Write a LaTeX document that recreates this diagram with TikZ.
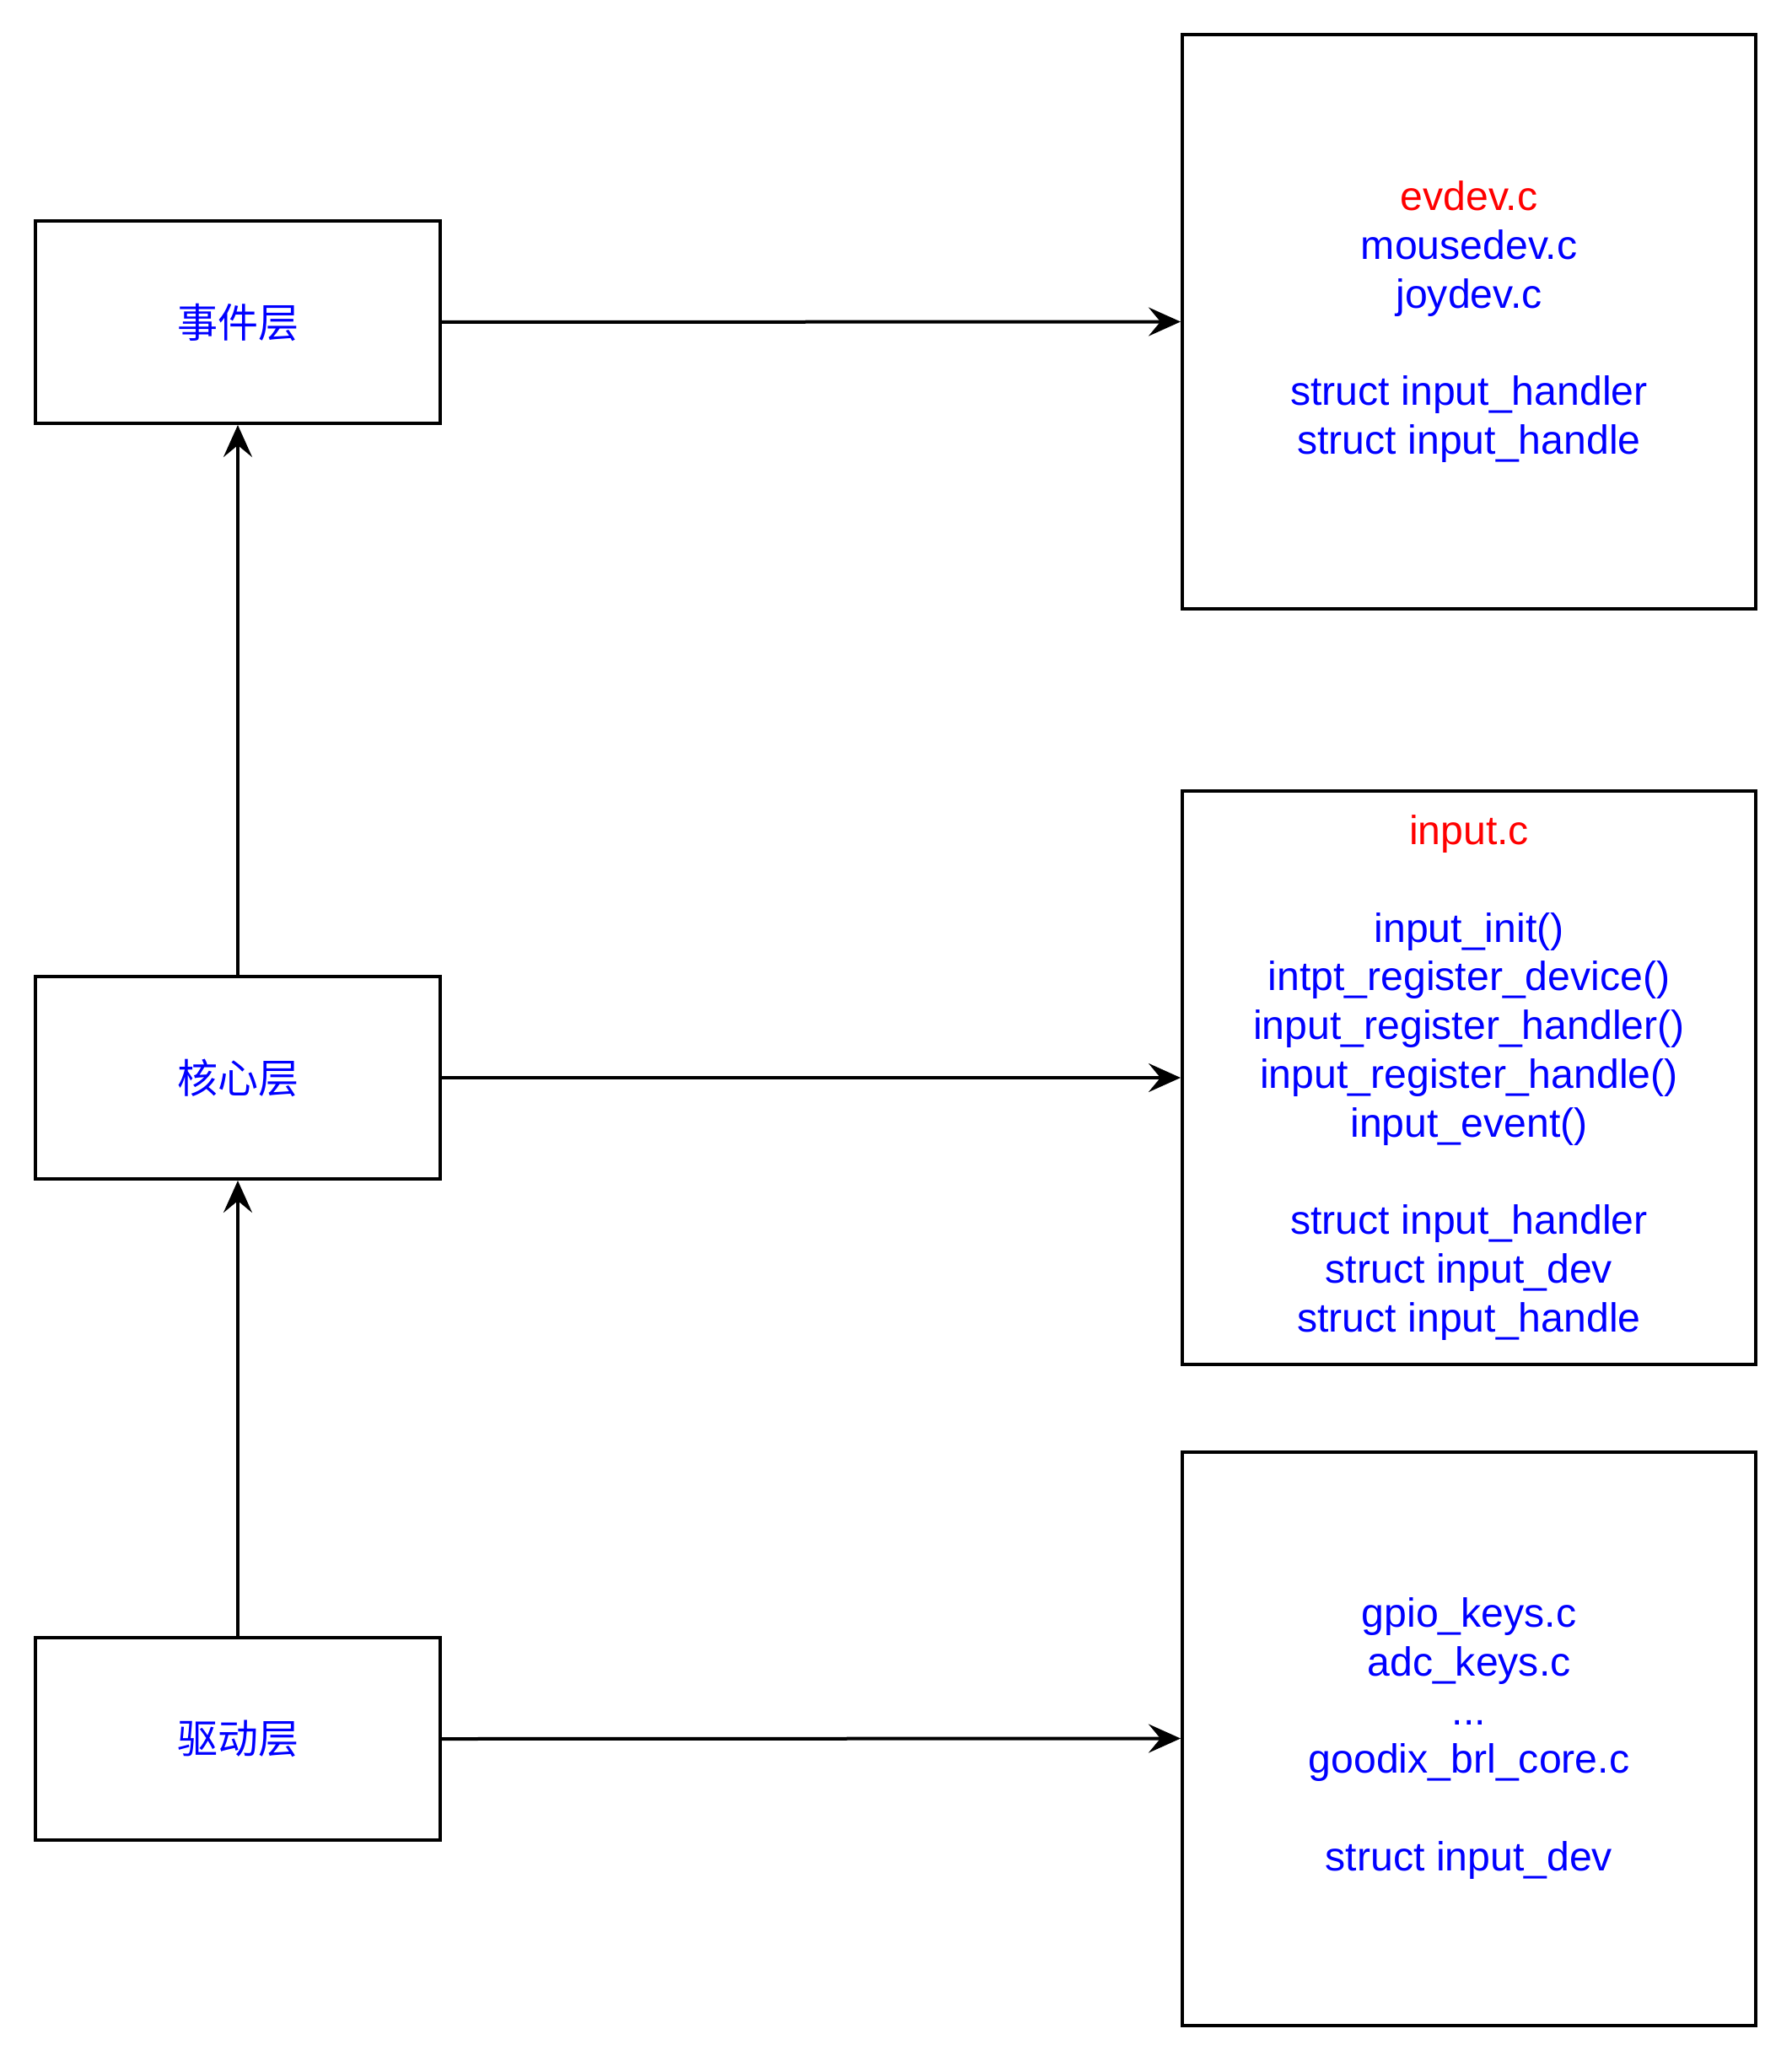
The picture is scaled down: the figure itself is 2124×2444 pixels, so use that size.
\documentclass[tikz,border=0pt]{standalone}
\usepackage{fontspec}
\setmainfont{Liberation Sans}
\newfontfamily\cjk{Noto Sans CJK SC}
\usetikzlibrary{arrows.meta}
\definecolor{txtblue}{HTML}{0000FF}
\definecolor{txtred}{HTML}{FF0000}
\begin{document}
\begin{tikzpicture}[x=0.5pt,y=-0.5pt,
  layerbox/.style={draw=black, line width=2pt, minimum width=240pt, minimum height=120pt, inner sep=0pt,
    text=txtblue, font=\cjk\fontsize{24}{28.9}\selectfont},
  infobox/.style={draw=black, line width=2pt, minimum width=340pt, minimum height=340pt, inner sep=0pt,
    text=txtblue, align=center, font=\fontsize{24.1}{28.9}\selectfont},
  conn/.style={draw=black, line width=2pt, -{Stealth[length=19pt,width=17pt,inset=7pt]}}]
\useasboundingbox (0,0) rectangle (2124,2444);
\fill[white] (0,0) rectangle (2124,2444);
\node[layerbox] (event) at (282,382) {事件层};
\node[layerbox] (core) at (282,1278) {核心层};
\node[layerbox] (drv) at (282,2062) {驱动层};
\node[infobox] (evbox) at (1742,381.5) {\textcolor{txtred}{evdev.c}\\mousedev.c\\joydev.c\\[28.9pt]struct input\_handler\\struct input\_handle};
\node[infobox] (corebox) at (1742,1278) {\textcolor{txtred}{input.c}\\[28.9pt]input\_init()\\intpt\_register\_device()\\input\_register\_handler()\\input\_register\_handle()\\input\_event()\\[28.9pt]struct input\_handler\\struct input\_dev\\struct input\_handle};
\node[infobox] (drvbox) at (1742,2061.5) {gpio\_keys.c\\adc\_keys.c\\...\\goodix\_brl\_core.c\\[28.9pt]struct input\_dev};
\draw[conn] (event.east) -- (evbox.west);
\draw[conn] (core.east) -- (corebox.west);
\draw[conn] (drv.east) -- (drvbox.west);
\draw[conn] (core.north) -- (event.south);
\draw[conn] (drv.north) -- (core.south);
\end{tikzpicture}
\end{document}
